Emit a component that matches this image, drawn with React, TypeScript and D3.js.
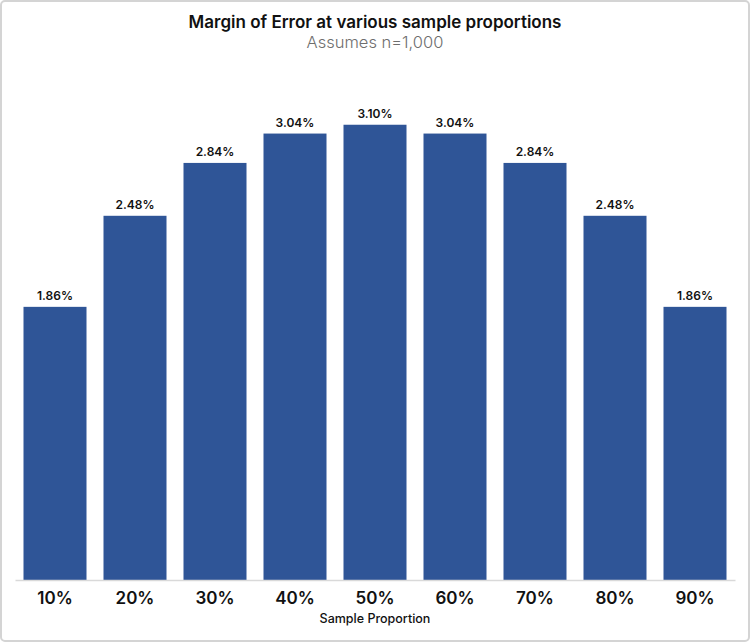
import { useEffect, useRef } from "react";
import * as d3 from "d3";

// chart data
const proportions = ["10%", "20%", "30%", "40%", "50%", "60%", "70%", "80%", "90%"];
const marginOfError = [1.86, 2.48, 2.84, 3.04, 3.1, 3.04, 2.84, 2.48, 1.86];

const title = "Margin of Error at various sample proportions";
const subtitle = "Assumes n=1,000";
const xTitle = "Sample Proportion";

export default function App() {
  const ref = useRef<SVGSVGElement>(null);

  useEffect(() => {
    if (!ref.current) return;
    const svg = d3.select(ref.current);
    svg.selectAll("*").remove();

    const width = 750;
    const height = 642;
    const font = "Inter, 'Noto Sans', sans-serif";

    // outer frame
    svg.append("rect")
      .attr("x", 1).attr("y", 1)
      .attr("width", width - 2).attr("height", height - 2)
      .attr("rx", 4)
      .attr("fill", "#fff")
      .attr("stroke", "#d4d4d4")
      .attr("stroke-width", 2);

    const x = d3.scaleBand<string>()
      .domain(proportions)
      .range([15, 735])
      .paddingInner(0.2125)
      .paddingOuter(0.10625);

    const y = d3.scaleLinear().domain([0, 3.5]).range([580, 66]);

    const data = proportions.map((p, i) => ({ p, v: marginOfError[i] }));

    svg.append("g")
      .selectAll("rect")
      .data(data)
      .enter().append("rect")
      .attr("x", d => x(d.p)!)
      .attr("y", d => y(d.v))
      .attr("width", x.bandwidth())
      .attr("height", d => y(0) - y(d.v))
      .attr("fill", "#2F5597");

    // value labels
    svg.append("g")
      .selectAll("text")
      .data(data)
      .enter().append("text")
      .attr("x", d => x(d.p)! + x.bandwidth() / 2)
      .attr("y", d => y(d.v) - 7)
      .attr("text-anchor", "middle")
      .style("font-family", font)
      .style("font-size", "12px")
      .style("font-weight", 600)
      .attr("fill", "#111")
      .text(d => d.v.toFixed(2) + "%");

    // baseline + category labels
    const axis = svg.append("g")
      .attr("transform", `translate(0,${y(0)})`)
      .call(d3.axisBottom(x).tickSize(0).tickPadding(12));
    axis.select(".domain").attr("stroke", "#d9d9d9").attr("stroke-width", 1.5);
    axis.selectAll("text")
      .style("font-family", font)
      .style("font-size", "17px")
      .style("font-weight", 600)
      .attr("fill", "#111");

    svg.append("text")
      .attr("x", width / 2).attr("y", 623)
      .attr("text-anchor", "middle")
      .style("font-family", font)
      .style("font-size", "12.5px")
      .style("font-weight", 500)
      .attr("fill", "#111")
      .text(xTitle);

    svg.append("text")
      .attr("x", width / 2).attr("y", 28)
      .attr("text-anchor", "middle")
      .style("font-family", font)
      .style("font-size", "17px")
      .style("font-weight", 600)
      .attr("fill", "#111")
      .text(title);

    svg.append("text")
      .attr("x", width / 2).attr("y", 48)
      .attr("text-anchor", "middle")
      .style("font-family", font)
      .style("font-size", "16.5px")
      .style("font-weight", 300)
      .attr("fill", "#6e6e6e")
      .text(subtitle);
  }, []);

  return (
    <svg
      ref={ref}
      width={750}
      height={642}
      style={{ position: "absolute", left: 0, top: 0, display: "block" }}
    />
  );
}
